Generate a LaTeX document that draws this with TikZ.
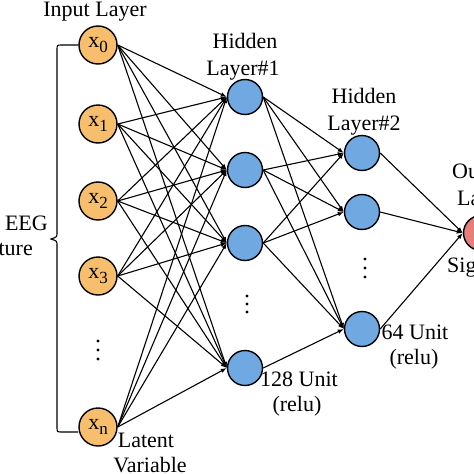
\documentclass[tikz,border=0pt]{standalone}
\usepackage{fontspec}
\setmainfont{Liberation Serif}
\usetikzlibrary{arrows.meta}
\definecolor{inorange}{RGB}{247,190,110}
\definecolor{hidblue}{RGB}{112,168,226}
\definecolor{outred}{RGB}{232,125,125}
\newcommand\xsub[1]{x\raisebox{-5pt}{\fontsize{17}{17}\selectfont #1}}
\begin{document}
\begin{tikzpicture}[x=1pt,y=-1pt,
  neuron/.style={circle,draw=black,line width=1.4pt,inner sep=0pt},
  innode/.style={neuron,fill=inorange,minimum size=38pt,font=\fontsize{22}{24}\selectfont},
  hidnode/.style={neuron,fill=hidblue,minimum size=35pt},
  outnode/.style={neuron,fill=outred,minimum size=35pt},
  lbl/.style={font=\fontsize{22}{27}\selectfont,inner sep=0pt,anchor=base},
  conn/.style={line width=1.1pt,-{Latex[length=6pt,width=4.5pt]}},
  dotmark/.style={circle,fill=black,inner sep=0pt,minimum size=3.4pt},
]
\useasboundingbox (0,0) rectangle (474,474);
\clip (0,0) rectangle (474,474);
% input layer
\node[innode] (x0) at (98,45) {\xsub{0}};
\node[innode] (x1) at (98,124) {\xsub{1}};
\node[innode] (x2) at (98,201) {\xsub{2}};
\node[innode] (x3) at (98,276) {\xsub{3}};
\node[innode] (xn) at (98,427) {\xsub{n}};
% hidden layer 1
\node[hidnode] (h11) at (245,97) {};
\node[hidnode] (h12) at (245,170) {};
\node[hidnode] (h13) at (245,243) {};
\node[hidnode] (h14) at (245,368) {};
% hidden layer 2
\node[hidnode] (h2a) at (362,153) {};
\node[hidnode] (h2b) at (362,212) {};
\node[hidnode] (h2c) at (362,329) {};
% output
\node[outnode] (out) at (481,233) {};
% connections
\foreach \i in {x0,x1,x2,x3,xn}
  \foreach \j in {h11,h12,h13,h14}
    \draw[conn] (\i.east) -- (\j.west);
\foreach \i in {h11,h12,h13}
  \foreach \j in {h2a,h2b,h2c}
    \draw[conn] (\i.east) -- (\j.west);
\draw[conn] (h14.east) -- (h2c.west);
\foreach \i in {h2a,h2b,h2c}
  \draw[conn] (\i.east) -- (out.west);
% dots
\foreach \k/\px/\py in {1/98/341,2/98/350,3/98/359}
  \node[dotmark] (di\k) at (\px,\py) {};
\foreach \k/\px/\py in {1/247/296,2/247/304,3/247/312}
  \node[dotmark] (dh\k) at (\px,\py) {};
\foreach \k/\px/\py in {1/365/259,2/365/268,3/365/277}
  \node[dotmark] (dk\k) at (\px,\py) {};
% brace
\draw[line width=1.1pt] (x0.west) -- (62,45) .. controls (57,45) .. (57,50) -- (57,233)
  .. controls (57,237) .. (51,239) .. controls (57,241) .. (57,245) -- (57,427)
  .. controls (57,432) .. (62,432) -- (78,432);
% labels
\node[lbl] (tin) at (95,16) {Input Layer};
\node[lbl] (th1a) at (245,48) {Hidden};
\node[lbl] (th1b) at (243,75) {Layer\#1};
\node[lbl] (th2a) at (364,103) {Hidden};
\node[lbl] (th2b) at (364,130) {Layer\#2};
\node[lbl,anchor=base west] (to1) at (452,178) {Ou};
\node[lbl,anchor=base west] (to2) at (457,205) {La};
\node[lbl,anchor=base west] (to3) at (447,272) {Sig};
\node[lbl,anchor=base east] (te1) at (48,230) {EEG};
\node[lbl,anchor=base east] (te2) at (33,255) {ture};
\node[lbl] (tl1) at (146,447) {Latent};
\node[lbl] (tl2) at (150,472) {Variable};
\node[lbl] (tu1) at (299,386) {128 Unit};
\node[lbl] (tu2) at (297,411) {(relu)};
\node[lbl] (tv1) at (415,339) {64 Unit};
\node[lbl] (tv2) at (414,364) {(relu)};
\end{tikzpicture}
\end{document}
